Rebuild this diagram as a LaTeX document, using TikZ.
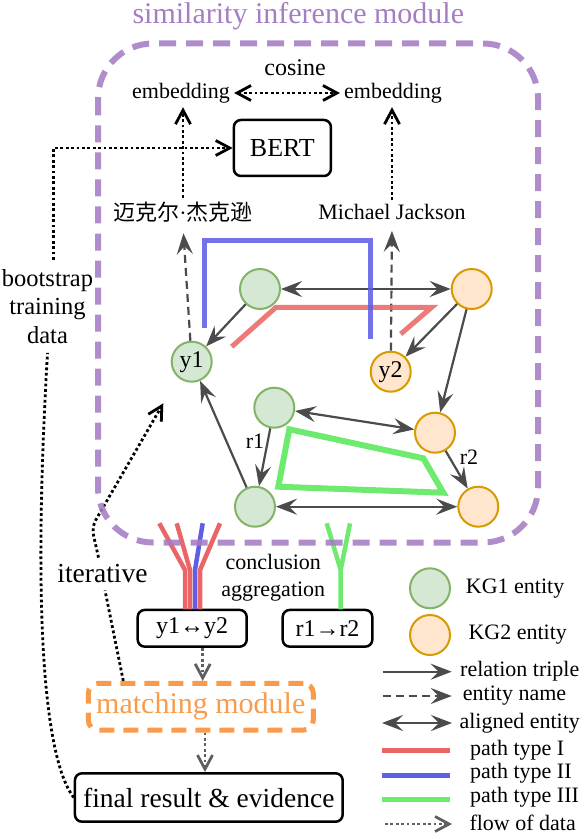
\documentclass[tikz,border=0pt]{standalone}
\usepackage{fontspec}
\setmainfont{Liberation Serif}
\newfontfamily\cjkfont{Noto Sans CJK SC}
\usetikzlibrary{arrows.meta}
\definecolor{purp}{RGB}{165,125,195}
\definecolor{gfill}{HTML}{D5E8D4}
\definecolor{gdraw}{HTML}{82B366}
\definecolor{ofill}{HTML}{FFE6CC}
\definecolor{odraw}{HTML}{D79B00}
\definecolor{relc}{RGB}{75,75,75}
\definecolor{pred}{RGB}{234,102,102}
\definecolor{pblue}{RGB}{95,95,230}
\definecolor{pgreen}{RGB}{110,235,110}
\definecolor{morange}{RGB}{248,155,75}
\definecolor{flowgray}{RGB}{95,95,95}
\newcommand{\myfs}[1]{\fontsize{#1}{#1}\selectfont}
\tikzset{
  txt/.style={inner sep=0pt, font=\myfs{22}},
  gnode/.style={circle, draw=gdraw, fill=gfill, line width=2pt, minimum size=40pt, inner sep=0pt, font=\myfs{24}},
  onode/.style={circle, draw=odraw, fill=ofill, line width=2pt, minimum size=40pt, inner sep=0pt, font=\myfs{24}},
  reltip/.tip={Stealth[length=21pt,width=16pt,inset=8pt]},
  barbtip/.tip={Straight Barb[length=14pt,width=15pt]},
  rel/.style={draw=relc, line width=2.2pt, -reltip},
  aligned/.style={draw=relc, line width=2.2pt, reltip-reltip},
  namearr/.style={draw=relc, line width=2.2pt, dash pattern=on 8pt off 5pt, -reltip},
  flowline/.style={draw=black, line width=2.8pt, dash pattern=on 2.8pt off 2.6pt},
  flow/.style={flowline, -barbtip},
  flowboth/.style={flowline, barbtip-barbtip},
  gflow/.style={flow, draw=flowgray},
  pathline/.style={line width=5pt, opacity=.88},
  forkline/.style={line width=4.5pt},
  box/.style={draw, rounded corners=7pt, line width=2.5pt, inner sep=0pt}
}
\begin{document}
\begin{tikzpicture}[x=1pt,y=-1pt]
\useasboundingbox (0,0) rectangle (582,834);

% title and top part
\node[txt, text=purp, font=\myfs{30}] (title) at (298.3,16.5) {similarity inference module};
\node[txt, font=\myfs{24}] (cos) at (295,68) {cosine};
\node[txt, inner sep=4pt] (e1) at (181,93) {embedding};
\node[txt, inner sep=4pt] (e2) at (393,93) {embedding};
\draw[flowboth] (e1) -- (e2);
\node[box, minimum width=97pt, minimum height=56pt, font=\myfs{26}] (bert) at (282.4,148) {BERT};
\node[txt, inner sep=4pt, font=\myfs{22}] (n1) at (183,212) {{\cjkfont 迈克尔}·{\cjkfont 杰克逊}};
\node[txt, inner sep=4pt] (n2) at (392,212) {Michael Jackson};
\draw[flow] (n1.north) -- (n1.north |- e1.south);
\draw[flow] (n2.north) -- (n2.north |- e2.south);

% graph nodes
\node[gnode] (y1) at (191.7,361.7) {y1};
\node[gnode] (gt) at (260,289) {};
\node[onode] (ot) at (471.7,289) {};
\node[onode] (y2) at (390.7,371.7) {y2};
\node[gnode] (gm) at (274.3,407.7) {};
\node[onode] (om) at (435,432.7) {};
\node[gnode] (gb) at (255,506.7) {};
\node[onode] (ob) at (478.3,506.7) {};

\draw[namearr, shorten >=7pt] (y1) -- (n1.south);
\draw[namearr, shorten >=7pt] (y2) -- (n2.south);

\draw[rel] (gt) -- (y1);
\draw[aligned] (gt) -- (ot);
\draw[rel] (ot) -- (y2);
\draw[rel] (ot) -- (om);
\draw[aligned] (gm) -- (om);
\draw[rel] (gm) -- (gb);
\draw[rel] (om) -- (ob);
\draw[rel] (gb) -- (y1);
\draw[aligned] (gb) -- (ob);
\node[txt] (r1) at (255,441.7) {r1};
\node[txt] (r2) at (469,457) {r2};

% paths
\draw[pathline, pred] (231.7,346.7) -- (276,307.3) -- (431.7,307.3) -- (400.7,334);
\draw[pathline, pblue] (204,328.3) -- (204,240.7) -- (370.7,240.7) -- (370.7,339.3);
\draw[pathline, pgreen, line width=6pt, opacity=1] (289.3,429.3) -- (423.3,458.3) -- (443.3,492.7) -- (278.3,486.7) -- cycle;

% bottom boxes
\node[box, minimum width=109pt, minimum height=36.7pt, font=\myfs{24}] (yy) at (192.2,628.3) {y1↔y2};
\node[box, minimum width=89.6pt, minimum height=36.7pt, font=\myfs{24}] (rr) at (327.5,628.3) {r1→r2};
\node[txt, align=center, font=\fontsize{22}{26.7}\selectfont] (concl) at (273.3,578) {conclusion\\aggregation};

% forks
\draw[forkline, pred] (159.3,523.3) -- (185,570) -- (185,609.3);
\draw[forkline, pred] (176.7,523.3) -- (190,570) -- (190,609.3);
\draw[forkline, pblue] (202.7,523.3) -- (195,570) -- (195,609.3);
\draw[forkline, pred] (220,523.3) -- (200,570) -- (200,609.3);
\draw[forkline, pgreen] (326.7,523.3) -- (340.7,570) -- (340.7,609.3);
\draw[forkline, pgreen] (350,523.3) -- (340.7,570);

% matching and final
\node[draw=morange, line width=5pt, dash pattern=on 15pt off 9pt, rounded corners=10pt, minimum width=225pt, minimum height=46.7pt, inner sep=0pt, text=morange, font=\myfs{30}] (match) at (200.8,706.7) {matching module};
\node[box, minimum width=267.7pt, minimum height=48.4pt, font=\myfs{27.5}] (final) at (208.8,797.5) {final result \& evidence};
\draw[gflow] ([xshift=10.5pt]yy.south) -- ([xshift=10.5pt]yy.south |- match.north);
\draw[gflow] ([xshift=4.2pt]match.south) -- ([xshift=4.2pt]match.south |- final.north);

% iterative
\node[txt, inner sep=7pt, font=\myfs{27.5}] (iter) at (102.5,574) {iterative};
\coordinate (itbend) at (91.7,527);
\coordinate (ittip) at (163.3,403.3);
\draw[flowline] ([xshift=37.5pt]match.north west) -- ([xshift=2.5pt]iter.south);
\draw[flow, rounded corners=8pt] ([xshift=-4pt]iter.north) -- (itbend) -- (ittip);

% bootstrap
\node[txt, inner sep=9pt, align=center, font=\fontsize{24.5}{28.7}\selectfont] (boot) at (47.5,306.4) {bootstrap\\training\\data};
\draw[flowline] (final.west) .. controls (45,760) and (32,620) .. (boot.south);
\draw[flow] ([xshift=6pt]boot.north) |- (bert.west);

% legend
\node[gnode] (lg) at (430,588.3) {};
\node[onode] (lo) at (430,635) {};
\node[txt, anchor=west] (tkg1) at (465.7,588.3) {KG1 entity};
\node[txt, anchor=west] (tkg2) at (468.3,635) {KG2 entity};
\node[txt, anchor=west] (trel) at (460,671.7) {relation triple};
\node[txt, anchor=west] (tname) at (462.7,696) {entity name};
\node[txt, anchor=west] (talig) at (459.3,723.3) {aligned entity};
\node[txt, anchor=west] (tp1) at (470,750.7) {path type I};
\node[txt, anchor=west] (tp2) at (470,773.3) {path type II};
\node[txt, anchor=west] (tp3) at (470,797.3) {path type III};
\node[txt, anchor=west] (tflow) at (469.3,822.5) {flow of data};
\coordinate (l1a) at (382.7,671.7); \coordinate (l1b) at (451.7,671.7);
\coordinate (l2a) at (382.7,696);   \coordinate (l2b) at (451.7,696);
\coordinate (l3a) at (382,723);     \coordinate (l3b) at (452,723);
\coordinate (l4a) at (381.7,750);   \coordinate (l4b) at (450,750);
\coordinate (l5a) at (381.7,775);   \coordinate (l5b) at (450,775);
\coordinate (l6a) at (381.7,799.3); \coordinate (l6b) at (450,799.3);
\coordinate (l7a) at (385,824);     \coordinate (l7b) at (452,824);
\draw[rel] (l1a) -- (l1b);
\draw[namearr] (l2a) -- (l2b);
\draw[aligned] (l3a) -- (l3b);
\draw[pathline, pred, opacity=1] (l4a) -- (l4b);
\draw[pathline, pblue, opacity=1] (l5a) -- (l5b);
\draw[pathline, pgreen, opacity=1] (l6a) -- (l6b);
\draw[gflow] (l7a) -- (l7b);

% similarity inference module frame
\draw[purp, line width=6pt, dash pattern=on 17pt off 10pt, rounded corners=55pt, opacity=.88] (98,43.5) rectangle (538,542.5);
\end{tikzpicture}
\end{document}
